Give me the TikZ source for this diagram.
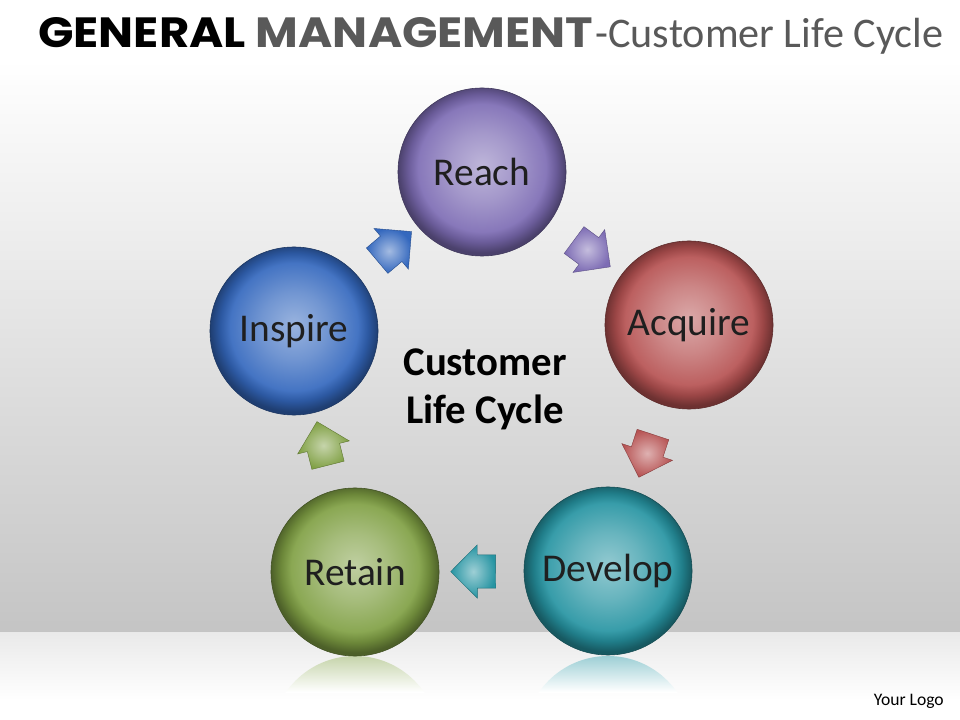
\documentclass[tikz,border=0pt]{standalone}
\usepackage{fontspec}
\setmainfont{Carlito}
\newfontfamily\titlefont{Poppins}
\usetikzlibrary{shapes.arrows}

\definecolor{reachC}{RGB}{125,108,180}
\definecolor{acquireC}{RGB}{182,82,82}
\definecolor{developC}{RGB}{38,148,162}
\definecolor{retainC}{RGB}{128,160,68}
\definecolor{inspireC}{RGB}{52,104,190}
\colorlet{sphC}{gray}
% glassy sphere: light core, dark rim (thicker at the bottom)
\pgfdeclareradialshading[sphC]{glassball}{\pgfpoint{0bp}{2bp}}{%
  color(0bp)=(sphC!50!white);
  color(10bp)=(sphC!70!white);
  color(19bp)=(sphC!92!white);
  color(22bp)=(sphC!85!black);
  color(25bp)=(sphC!60!black);
  color(50bp)=(sphC!60!black)}

\begin{document}
\begin{tikzpicture}[
  x=0.025cm, y=-0.025cm,
  sph/.style = {circle, minimum size=4.2cm, inner sep=0pt, shade, shading=glassball,
                /utils/exec={\colorlet{sphC}{#1}}, draw=#1!50!black, line width=0.4pt,
                font=\fontsize{28}{30}\selectfont, text=black!88},
  arr/.style = {single arrow, single arrow head extend=0.25cm, minimum height=1.125cm,
                inner xsep=0pt, inner ysep=0.41cm, inner color=#1!45!white, outer color=#1,
                draw=#1!75!black, line width=0.3pt, sloped, allow upside down},
  refl/.style = {top color=#1!45!white, bottom color=white},
]
\useasboundingbox (0,0) rectangle (960,720);
% backdrop and floor
\fill[white] (0,0) rectangle (960,720);
\shade[top color=white, middle color=gray!12, bottom color=gray!46] (0,60) rectangle (960,632);
\shade[top color=gray!17, bottom color=white] (0,632) rectangle (960,700);
% reflections on the floor
\begin{scope}
  \clip (355,740) circle (84);
  \shade[refl=retainC] (271,656) rectangle (439,692);
\end{scope}
\begin{scope}
  \clip (608,740) circle (84);
  \shade[refl=developC] (524,656) rectangle (692,692);
\end{scope}
% title
\node[anchor=base west, inner sep=0pt] (ttl) at (38,48)
  {\resizebox{13.875cm}{0.75cm}{\titlefont\bfseries GENERAL \textcolor{black!65}{MANAGEMENT}}};
\node[anchor=base west, inner sep=0pt, text=black!65, font=\fontsize{30}{34}\selectfont]
  (sub) at ([xshift=1pt]ttl.base east) {-Customer Life Cycle};
% the five stages
\node[sph=reachC]   (reach)   at (482,172) {Reach};
\node[sph=acquireC] (acquire) at (689,325) {Acquire};
\node[sph=developC] (develop) at (608,571) {Develop};
\node[sph=retainC]  (retain)  at (355,572) {Retain};
\node[sph=inspireC] (inspire) at (294,331) {Inspire};
% block arrows between the stages
\path (inspire) -- node[arr=inspireC] (a1) {} (reach);
\path (reach)   -- node[arr=reachC]   (a2) {} (acquire);
\path (acquire) -- node[arr=acquireC] (a3) {} (develop);
\path (develop) -- node[arr=developC] (a4) {} (retain);
\path (retain)  -- node[arr=retainC]  (a5) {} (inspire);
\node[font=\bfseries\fontsize{29}{34}\selectfont, align=center] (hub) at (485,389) {Customer\\Life Cycle};
\node[anchor=base east, inner sep=0pt, font=\fontsize{12.5}{14}\selectfont] (logo) at (944,705) {Your Logo};
\end{tikzpicture}
\end{document}
